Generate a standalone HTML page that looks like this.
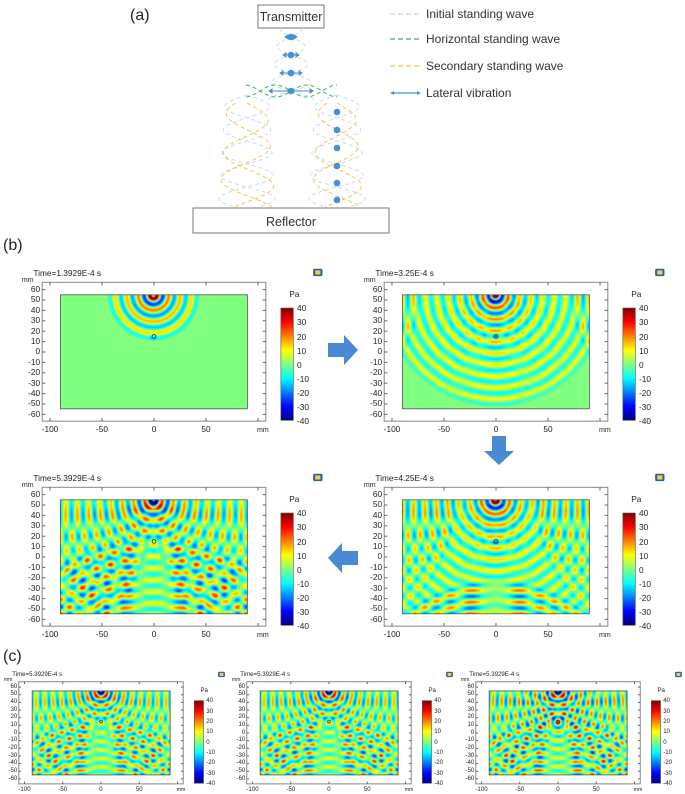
<!DOCTYPE html>
<html><head><meta charset="utf-8">
<style>
body{margin:0;background:#fff;width:685px;height:794px;overflow:hidden;position:relative;font-family:"Liberation Sans",sans-serif;color:#222}
#root{position:absolute;left:0;top:0;width:685px;height:794px}
.lbl{position:absolute;white-space:nowrap;line-height:1}
canvas{position:absolute}
</style></head><body>
<div id="root">
<svg width="685" height="794" style="position:absolute;left:0;top:0">
<text x="130" y="20" font-size="16" fill="#222">(a)</text>
<text x="3" y="250" font-size="16" fill="#222">(b)</text>
<text x="3" y="661" font-size="16" fill="#222">(c)</text>
<rect x="258" y="5" width="66" height="23" fill="#fff" stroke="#777" stroke-width="1"/>
<text x="291" y="21" font-size="12.5" text-anchor="middle" fill="#333">Transmitter</text>
<rect x="193" y="208" width="196" height="25" fill="#fff" stroke="#777" stroke-width="1"/>
<text x="291" y="226" font-size="12.5" text-anchor="middle" fill="#333">Reflector</text>
<g id="waves"></g>
<g>
<line x1="390" y1="14" x2="420" y2="14" stroke="#c2d8ef" stroke-width="1.2" stroke-dasharray="5,3"/>
<text x="426" y="18" font-size="12" fill="#333">Initial standing wave</text>
<line x1="390" y1="39" x2="420" y2="39" stroke="#3cb56a" stroke-width="1.2" stroke-dasharray="5,3"/>
<text x="426" y="43" font-size="12" fill="#333">Horizontal standing wave</text>
<line x1="390" y1="66" x2="420" y2="66" stroke="#f0c44a" stroke-width="1.2" stroke-dasharray="5,3"/>
<text x="426" y="70" font-size="12" fill="#333">Secondary standing wave</text>
<line x1="392" y1="93" x2="419" y2="93" stroke="#4a8fd0" stroke-width="1.2"/>
<path d="M390 93 l4 -2 v4z M421 93 l-4 -2 v4z" fill="#4a8fd0"/>
<text x="426" y="97" font-size="12" fill="#333">Lateral vibration</text>
</g>
<g>
<path d="M328 343 h16 v-8 l14 15 l-14 15 v-8 h-16z" fill="#4a8ad4"/>
<path d="M492 436 h14 v15 h8 l-15 14 l-15 -14 h8z" fill="#4a8ad4"/>
<path d="M358 551 h-16 v-8 l-14 15 l14 15 v-8 h16z" fill="#4a8ad4"/>
</g>
</svg>
</div>
<script>
const NS='http://www.w3.org/2000/svg';
const wg=document.getElementById('waves');
function pathFn(f,a0,a1,step){let d='';for(let t=a0;t<=a1+0.01;t+=step){const p=f(t);d+=(d?'L':'M')+p[0].toFixed(1)+' '+p[1].toFixed(1);}return d;}
function addPath(d,col,name){const p=document.createElementNS(NS,'path');p.setAttribute('d',d);p.setAttribute('fill','none');p.setAttribute('stroke',col);p.setAttribute('stroke-width','1');p.setAttribute('stroke-dasharray','4,3');


wg.appendChild(p);}
const LB='#c8dcf0',YE='#f2c650',GR='#3cb56a',BL='#4a8fd0';
[1,-1].forEach(s=>{
 addPath(pathFn(y=>[291+s*(11+(y-28)*0.16)*Math.sin(Math.PI*(y-37)/18),y],28,100,1),LB,'initial-wave-center');
 addPath(pathFn(y=>[247+s*(22+(y-100)*0.06)*Math.sin(Math.PI*(y-95)/23),y],95,207,1),LB,'initial-wave-left');
 addPath(pathFn(y=>[337+s*(22+(y-100)*0.06)*Math.sin(Math.PI*(y-95)/23),y],95,207,1),LB,'initial-wave-right');
});
addPath(pathFn(y=>[247+(20+(y-105)*0.08)*Math.sin(Math.PI*(y-103)/33),y],103,207,1),YE,'secondary-wave-left');
addPath(pathFn(y=>[247-(20+(y-105)*0.08)*Math.sin(Math.PI*(y-103)/33+0.6),y],103,207,1),YE,'secondary-wave-left-2');
addPath(pathFn(y=>[337+(18+(y-105)*0.08)*Math.sin(Math.PI*(y-103)/33),y],103,207,1),YE,'secondary-wave-right');
addPath(pathFn(y=>[337-(18+(y-105)*0.08)*Math.sin(Math.PI*(y-103)/33+0.6),y],103,207,1),YE,'secondary-wave-right-2');
[1,-1].forEach(s=>addPath(pathFn(x=>[x,91+s*6*Math.sin(Math.PI*(x-291)/31)],246,337,1),GR,'horizontal-wave'));
function dot(x,y,name){const c=document.createElementNS(NS,'circle');c.setAttribute('cx',x);c.setAttribute('cy',y);c.setAttribute('r',3.3);c.setAttribute('fill',BL);


wg.appendChild(c);}
function harrow(x,y,w){const p=document.createElementNS(NS,'path');p.setAttribute('d',`M${x-w} ${y} H${x+w} M${x-w} ${y} l3 -2 v4z M${x+w} ${y} l-3 -2 v4z`);p.setAttribute('stroke',BL);p.setAttribute('fill',BL);p.setAttribute('stroke-width','1');


wg.appendChild(p);}
[[37,6],[55,8],[73,11],[91,22]].forEach(a=>{harrow(291,a[0],a[1]);dot(291,a[0],'node-dot');});
[112,130,148,166,183,200].forEach(y=>dot(337,y,'node-dot-right'));

const times=['1.3929E-4','3.25E-4','4.25E-4','5.3929E-4','5.3929E-4','5.3929E-4','5.3929E-4'];
const timeVals=[1.3929e-4,3.25e-4,4.25e-4,5.3929e-4,5.3929e-4,5.3929e-4,5.3929e-4];
const scatter=[0.25,0.25,0.25,0.25,0.25,0.35,1.0];
const yTicks=[60,50,40,30,20,10,0,-10,-20,-30,-40,-50,-60];
const xTicks=[-100,-50,0,50];
const cbTicks=[40,30,20,10,0,-10,-20,-30,-40];
const panels=[{zx:154,zy:352,s:1.04},{zx:496,zy:352,s:1.04},{zx:496,zy:557,s:1.04},{zx:154,zy:557,s:1.04},
 {zx:101,zy:733,s:0.765},{zx:329,zy:733,s:0.765},{zx:558,zy:733,s:0.765}];
const root=document.getElementById('root');
function jet(t){t=Math.max(0,Math.min(1,t));const c=v=>Math.round(255*Math.max(0,Math.min(1,v)));
 return [c(1.5-Math.abs(4*t-3)),c(1.5-Math.abs(4*t-2)),c(1.5-Math.abs(4*t-1))];}
function field(x,y,R,sc){
 const lam=11, src=[[0,55,1],[0,-165,1.9],[180,55,1.0],[-180,55,1.0],[180,-165,1.2],[-180,-165,1.2]];
 let p=0;
 for(const s of src){const r=Math.hypot(x-s[0],y-s[1]);if(r>R)continue;
  const w=Math.min(1,(R-r)/8);const A=40*Math.sqrt(4/Math.max(r,2.5));
  p+=s[2]*w*A*Math.cos(2*Math.PI*(r-R)/lam);}
 const rs=Math.hypot(x,y-15),R2=R-40;
 if(rs<R2){p+=sc*Math.min(1,(R2-rs)/5)*25*Math.sqrt(3/Math.max(rs,2))*Math.cos(2*Math.PI*(rs-R2)/lam);}
 return p;
}
function addLbl(txt,x,y,fs,name,anchor){const d=document.createElement('div');d.className='lbl';d.textContent=txt;d.style.fontSize=fs+'px';
 
 
 root.appendChild(d);
 if(anchor==='right'){d.style.right=(685-x)+'px';}else if(anchor==='center'){d.style.left=x+'px';d.style.transform='translateX(-50%)';}else d.style.left=x+'px';
 d.style.top=(y-fs*0.55)+'px';return d;}
panels.forEach((P,i)=>{
 const s=P.s,X=m=>P.zx+m*s,Y=m=>P.zy-m*s,fs=8.3*s/1.04;
 const svg=document.createElementNS(NS,'svg');svg.setAttribute('width',685);svg.setAttribute('height',794);svg.style.position='absolute';svg.style.left=0;svg.style.top=0;
 
 
 const cv=document.createElement('canvas');const x0=X(-90),x1=X(90),y0=Y(55),y1=Y(-55);
 const W=Math.round(x1-x0),H=Math.round(y1-y0);cv.width=W;cv.height=H;cv.style.left=x0+'px';cv.style.top=y0+'px';
 
 
 const ctx=cv.getContext('2d'),img=ctx.createImageData(W,H);const R=343*timeVals[i]*1000;
 for(let py=0;py<H;py++)for(let px=0;px<W;px++){const mx=-90+(px+0.5)/W*180,my=55-(py+0.5)/H*110;
  const v=field(mx,my,R,scatter[i]);const c=jet((v+40)/80);const k=(py*W+px)*4;img.data[k]=c[0];img.data[k+1]=c[1];img.data[k+2]=c[2];img.data[k+3]=255;}
 ctx.putImageData(img,0,0);root.appendChild(cv);
 let h='';
 h+=`<rect x="${X(-107.5)}" y="${Y(67)}" width="${215*s}" height="${133.5*s}" fill="none" stroke="#888" stroke-width="1"/>`;
 h+=`<rect x="${x0}" y="${y0}" width="${W}" height="${H}" fill="none" stroke="#555" stroke-width="0.8"/>`;
 yTicks.forEach(t=>{h+=`<line x1="${X(-107.5)}" x2="${X(-107.5)+3*s}" y1="${Y(t)}" y2="${Y(t)}" stroke="#666"/><line x1="${X(107.5)}" x2="${X(107.5)-3*s}" y1="${Y(t)}" y2="${Y(t)}" stroke="#666"/>`;});
 xTicks.concat([100]).forEach(t=>{h+=`<line x1="${X(t)}" x2="${X(t)}" y1="${Y(67)}" y2="${Y(67)+3*s}" stroke="#666"/><line x1="${X(t)}" x2="${X(t)}" y1="${Y(-66.5)}" y2="${Y(-66.5)-3*s}" stroke="#666"/>`;});
 h+=`<circle cx="${X(0)}" cy="${Y(15)}" r="${1.8*s}" fill="none" stroke="#333" stroke-width="0.8"/>`;
 const gid='g'+i;h+=`<defs><linearGradient id="${gid}" x1="0" y1="0" x2="0" y2="1">`;
 for(let k=0;k<=8;k++){const c=jet(1-k/8);h+=`<stop offset="${k/8}" stop-color="rgb(${c})"/>`;}
 h+=`</linearGradient></defs><rect x="${X(122)}" y="${Y(42.3)}" width="${12*s}" height="${108*s}" fill="url(#${gid})" stroke="#555" stroke-width="0.6"/>`;
 h+=`<rect x="${X(153)}" y="${Y(80)}" width="${9*s}" height="${7*s}" rx="1.5" fill="#2a5fb0"/><rect x="${X(155)}" y="${Y(78.5)}" width="${5*s}" height="${4*s}" fill="#f4d23c"/>`;
 svg.innerHTML=h;root.appendChild(svg);
 addLbl('Time='+times[i]+' s',X(-116),Y(75),fs,'time-label');
 addLbl('mm',X(-127),Y(68),fs*0.85,'y-axis-unit');
 yTicks.forEach(t=>addLbl(String(t),X(-109.5),Y(t),fs,'y-tick-label','right'));
 xTicks.forEach(t=>addLbl(String(t),X(t),Y(-74.5),fs,'x-tick-label','center'));
 addLbl('mm',X(99),Y(-75.5),fs*0.85,'x-axis-unit');
 addLbl('Pa',X(130),Y(55),fs,'colorbar-unit');
 cbTicks.forEach((t,k)=>addLbl(String(t),X(137.5),Y(42.3-k*108/8)+1,fs,'colorbar-tick-label'));
});
</script>
</body></html>
